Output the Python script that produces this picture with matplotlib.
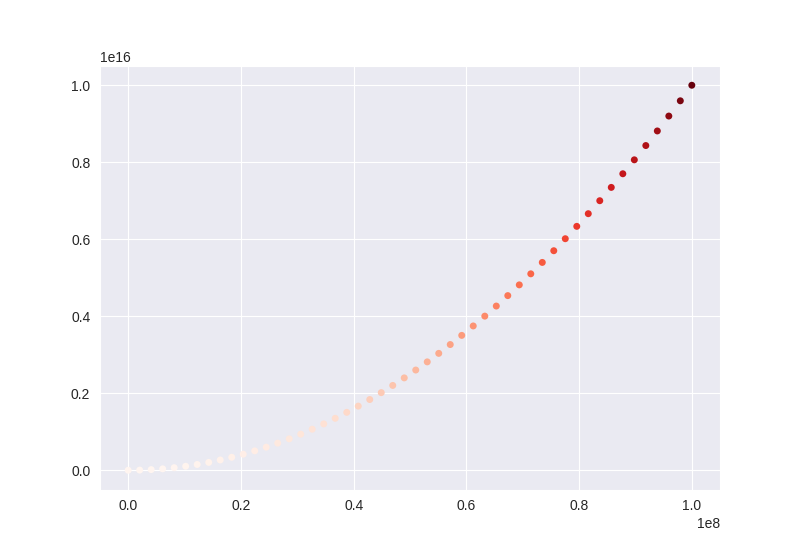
"""Scatter of a quadratic curve, coloured by value (Reds)."""

import matplotlib

matplotlib.use("Agg")
import matplotlib.pyplot as plt
import numpy as np
import seaborn as sns

# x positions in units of 1e8 (50 evenly spaced points)
x_scaled = [
    0.0000, 0.0204, 0.0408, 0.0612, 0.0816, 0.1020, 0.1224, 0.1429, 0.1633, 0.1837,
    0.2041, 0.2245, 0.2449, 0.2653, 0.2857, 0.3061, 0.3265, 0.3469, 0.3673, 0.3878,
    0.4082, 0.4286, 0.4490, 0.4694, 0.4898, 0.5102, 0.5306, 0.5510, 0.5714, 0.5918,
    0.6122, 0.6327, 0.6531, 0.6735, 0.6939, 0.7143, 0.7347, 0.7551, 0.7755, 0.7959,
    0.8163, 0.8367, 0.8571, 0.8776, 0.8980, 0.9184, 0.9388, 0.9592, 0.9796, 1.0000,
]
# y values in units of 1e16
y_scaled = [
    0.0000, 0.0004, 0.0017, 0.0037, 0.0067, 0.0104, 0.0150, 0.0204, 0.0267, 0.0337,
    0.0417, 0.0504, 0.0600, 0.0704, 0.0816, 0.0937, 0.1066, 0.1204, 0.1349, 0.1504,
    0.1666, 0.1837, 0.2016, 0.2203, 0.2399, 0.2603, 0.2815, 0.3036, 0.3265, 0.3503,
    0.3748, 0.4003, 0.4265, 0.4536, 0.4815, 0.5102, 0.5398, 0.5702, 0.6014, 0.6335,
    0.6664, 0.7001, 0.7347, 0.7701, 0.8063, 0.8434, 0.8813, 0.9200, 0.9596, 1.0000,
]

x = np.array(x_scaled) * 1e8
y = np.array(y_scaled) * 1e16

sns.set_style("darkgrid")
plt.rcParams["font.family"] = ["Liberation Sans", "DejaVu Sans"]

fig, ax = plt.subplots(figsize=(8, 5.5), dpi=100)
ax.scatter(x, y, c=y, cmap="Reds", s=25, linewidths=0)

plt.savefig("out.png", dpi=100)
